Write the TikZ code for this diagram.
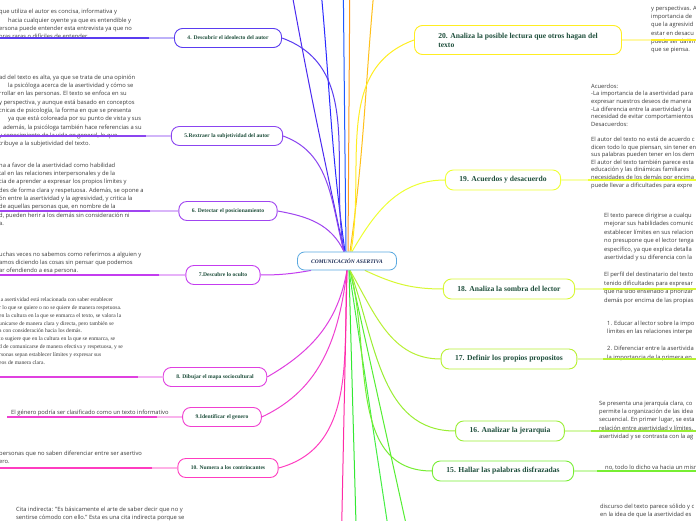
\documentclass[tikz,border=0pt]{standalone}
\usepackage{fontspec}
\setmainfont{Liberation Serif}
\setsansfont{Open Sans}
\usepackage{xcolor}
\usetikzlibrary{backgrounds}

\definecolor{rootline}{HTML}{5AA9E0}
\definecolor{roottext}{HTML}{1B2B55}
\definecolor{nodetext}{HTML}{1F4F3C}
\definecolor{leaftext}{HTML}{3A3A3A}
\definecolor{c1}{HTML}{1E5AFF}
\definecolor{c2}{HTML}{2A2AFF}
\definecolor{c3}{HTML}{4A2AF0}
\definecolor{c4}{HTML}{5A3CF0}
\definecolor{c5}{HTML}{8B45F0}
\definecolor{c6}{HTML}{A045F0}
\definecolor{c7}{HTML}{C43CF0}
\definecolor{c8}{HTML}{E040E0}
\definecolor{c9}{HTML}{F040D0}
\definecolor{c10}{HTML}{FF3CC0}
\definecolor{c11}{HTML}{FF2AA5}
\definecolor{c12}{HTML}{33E833}
\definecolor{c13}{HTML}{44EE44}
\definecolor{c14}{HTML}{55EE33}
\definecolor{c15}{HTML}{77EE33}
\definecolor{c16}{HTML}{99EE33}
\definecolor{c17}{HTML}{B8F033}
\definecolor{c18}{HTML}{D8F833}
\definecolor{c19}{HTML}{EEFF33}
\definecolor{c20}{HTML}{FFEE22}
\definecolor{c21}{HTML}{FFC01A}
\definecolor{c22}{HTML}{FF9A1A}

\begin{document}
\begin{tikzpicture}[x=1pt, y=1pt,
    root/.style={draw=rootline, fill=white, line width=0.8pt, rounded corners=7pt, minimum width=99pt, minimum height=18pt, font=\fontsize{5.5}{6}\selectfont\bfseries\itshape, text=roottext},
    topic/.style={draw=#1, fill=white, line width=0.9pt, rounded corners=8pt, minimum height=19pt, inner xsep=13pt, font=\fontsize{5.6}{6.5}\selectfont\bfseries, text=nodetext},
    bigtopic/.style={topic=#1, minimum height=20pt, inner xsep=14pt, font=\fontsize{7.6}{9}\selectfont\bfseries},
    leaf/.style={anchor=north west, inner sep=0pt, align=left, text=leaftext, font=\sffamily\fontsize{5.8}{8.3}\selectfont},
    leafrm/.style={leaf, font=\rmfamily\fontsize{5.6}{7.8}\selectfont},
    branch/.style={draw=#1, line width=1pt},
    lead/.style={draw=#1!40, line width=1.3pt},
    under/.style={draw=#1, line width=1.9pt}
  ]
  \useasboundingbox (0,0) rectangle (696,520);

  \node[root] (c) at (347,259) {COMUNICACIÓN ASERTIVA};

  \node[topic=c4] (n4) at (228,482) {4. Descubrir el ideolecto del autor};
  \node[topic=c5] (n5) at (227,384) {5.Rextraer la subjetividad del autor};
  \node[topic=c6] (n6) at (228,309) {6. Detectar el posicionamiento};
  \node[topic=c7] (n7) at (223,245) {7.Descubre lo oculto};
  \node[topic=c8] (n8) at (215,143) {8. Dibujar el mapa sociocultural};
  \node[topic=c9] (n9) at (222,103) {9.Identificar el genero};
  \node[topic=c10] (n10) at (228,52) {10. Numera a los contrincantes};

  \node[bigtopic=c20, align=left, minimum width=207pt, minimum height=29pt] (n20) at (518,480) {20. Analiza la posible lectura que otros hagan del\\texto};
  \node[bigtopic=c19] (n19) at (503,340) {19. Acuerdos y desacuerdo};
  \node[bigtopic=c18] (n18) at (509,231) {18. Analiza la sombra del lector};
  \node[bigtopic=c17] (n17) at (509,161) {17. Definir los propios propositos};
  \node[bigtopic=c16] (n16) at (510,89) {16. Analizar la jerarquia};
  \node[bigtopic=c15] (n15) at (503,49) {15. Hallar las palabras disfrazadas};

  \node[leaf] (l4) at (-1,510.8) {que utiliza el autor es concisa, informativa y\\\hspace*{9pt}hacia cualquier oyente ya que es entendible y\\ersona puede entender esta entrevista ya que no\\oras raras o difíciles de entender.};
  \node[leaf] (l5) at (-1,445.3) {ad del texto es alta, ya que se trata de una opinión\\\hspace*{9pt}la psicóloga acerca de la asertividad y cómo se\\rrollar en las personas. El texto se enfoca en su\\y perspectiva, y aunque está basado en conceptos\\cnicas de psicología, la forma en que se presenta\\\hspace*{9pt}ya que está coloreada por su punto de vista y sus\\\hspace*{4pt}además, la psicóloga también hace referencias a su\\y conocimiento de la vida en general, lo que\\tribuye a la subjetividad del texto.};
  \node[leaf] (l6) at (-1,357.3) {na a favor de la asertividad como habilidad\\tal en las relaciones interpersonales y de la\\cia de aprender a expresar los propios límites y\\des de forma clara y respetuosa. Además, se opone a\\ón entre la asertividad y la agresividad, y critica la\\de aquellas personas que, en nombre de la\\d, pueden herir a los demás sin consideración ni\\a.};
  \node[leaf] (l7) at (-1,268.3) {uchas veces no sabemos como referirnos a alguien y\\amos diciendo las cosas sin pensar que podemos\\ar ofendiendo a esa persona.};
  \node[leafrm] (l8) at (-1,222.3) {la asertividad está relacionada con saber establecer\\r lo que se quiere o no se quiere de manera respetuosa.\\en la cultura en la que se enmarca el texto, se valora la\\unicarse de manera clara y directa, pero también se\\a con consideración hacia los demás.\\to sugiere que en la cultura en la que se enmarca, se\\d de comunicarse de manera efectiva y respetuosa, y se\\rsonas sepan establecer límites y expresar sus\\eos de manera clara.};
  \node[leaf] (l9) at (11,110.3) {El género podría ser clasificado como un texto informativo};
  \node[leaf] (l10) at (-1,69.3) {personas que no saben diferenciar entre ser asertivo\\ero.};
  \node[leaf] (lc) at (16,13.3) {Cita indirecta: "Es básicamente el arte de saber decir que no y\\sentirse cómodo con ello." Esta es una cita indirecta porque se};

  \node[leaf] (l20) at (651,514.3) {y perspectivas. A\\importancia de\\que la agresivid\\estar en desacu\\puede ser dañin\\que se piensa.};
  \node[leaf, font=\sffamily\fontsize{5.8}{7.6}\selectfont] (l19) at (591,436.3) {Acuerdos:\\-La importancia de la asertividad para\\expresar nuestros deseos de manera\\-La diferencia entre la asertividad y la\\necesidad de evitar comportamientos\\Desacuerdos:\\[7.6pt]El autor del texto no está de acuerdo c\\dicen todo lo que piensan, sin tener en\\sus palabras pueden tener en los dem\\El autor del texto también parece esta\\educación y las dinámicas familiares\\necesidades de los demás por encima\\puede llevar a dificultades para expre};
  \node[leaf, font=\sffamily\fontsize{5.8}{8.5}\selectfont] (l18) at (604,307.3) {El texto parece dirigirse a cualqu\\mejorar sus habilidades comunic\\establecer límites en sus relacion\\no presupone que el lector tenga\\específico, ya que explica detalla\\asertividad y su diferencia con la\\[8.5pt]El perfil del destinatario del texto\\tenido dificultades para expresar\\que ha sido enseñado a priorizar\\demás por encima de las propias};
  \node[leaf, font=\sffamily\fontsize{5.8}{8.5}\selectfont] (l17) at (607,199.3) {1. Educar al lector sobre la impo\\límites en las relaciones interpe\\[8.5pt]2. Diferenciar entre la asertivida\\la importancia de la primera en};
  \node[leaf] (l16) at (599,119.3) {Se presenta una jerarquía clara, co\\permite la organización de las idea\\secuencial. En primer lugar, se esta\\relación entre asertividad y límites.\\asertividad y se contrasta con la ag};
  \node[leaf] (l15) at (605,55.3) {no, todo lo dicho va hacia un mism};
  \node[leaf] (lb) at (600,16.3) {discurso del texto parece sólido y c\\en la idea de que la asertividad es};

  \coordinate (rim) at (700,0);
  \coordinate (t1) at (343,560);
  \coordinate (t2) at (318,560);
  \coordinate (t3) at (286,560);
  \coordinate (t21) at (377,560);
  \coordinate (t22) at (350,560);
  \coordinate (b11) at (341,-40);
  \coordinate (b12) at (357,-40);
  \coordinate (b13) at (393,-40);
  \coordinate (b14) at (414,-40);

  \begin{scope}[on background layer]
    \fill[white] (0,0) rectangle (696,520);
    \draw[branch=c3] ([xshift=-3pt]c.north) to[out=102,in=-80] (t3);
    \draw[branch=c2] ([xshift=-2pt]c.north) to[out=98,in=-84] (t2);
    \draw[branch=c1] ([xshift=-1pt]c.north) -- (t1);
    \draw[branch=c22] ([xshift=1pt]c.north) -- (t22);
    \draw[branch=c21] ([xshift=3pt]c.north) to[out=82,in=-96] (t21);
    \draw[branch=c4] ([xshift=-3pt]c.north) to[out=100,in=-20] (n4.east);
    \draw[branch=c5] ([xshift=-3pt]c.north) to[out=105,in=-20] (n5.east);
    \draw[branch=c6] ([xshift=-3pt]c.north) to[out=115,in=-10] (n6.east);
    \draw[branch=c7] ([xshift=14pt]c.south west) to[out=190,in=0] (n7.east);
    \draw[branch=c8] (c.south) to[out=-100,in=30] (n8.east);
    \draw[branch=c9] (c.south) to[out=-97,in=25] (n9.east);
    \draw[branch=c10] (c.south) to[out=-93,in=15] (n10.east);
    \draw[branch=c11] (c.south) -- (b11);
    \draw[branch=c12] ([xshift=2pt]c.south) -- (b12);
    \draw[branch=c13] ([xshift=2pt]c.south) -- (b13);
    \draw[branch=c14] ([xshift=3pt]c.south) -- (b14);
    \draw[branch=c15] ([xshift=3pt]c.south) to[out=-75,in=180] (n15.west);
    \draw[branch=c16] ([xshift=3pt]c.south) to[out=-70,in=180] (n16.west);
    \draw[branch=c17] ([xshift=3pt]c.south) to[out=-60,in=180] (n17.west);
    \draw[branch=c18] ([xshift=-32pt]c.south east) to[out=-25,in=180] (n18.west);
    \draw[branch=c19] ([xshift=5pt]c.north) to[out=60,in=180] (n19.west);
    \draw[branch=c20] ([xshift=4pt]c.north) to[out=80,in=200] (n20.west);
  \end{scope}

  \draw[lead=c4] (n4.west) -- ++(-25,0) coordinate (k4);
  \draw[under=c4] (k4) -- (l4.west |- k4);
  \draw[lead=c5] (n5.west) -- ++(-25,0) coordinate (k5);
  \draw[under=c5] (k5) -- (l5.west |- k5);
  \draw[lead=c6] (n6.west) -- ++(-28,0) coordinate (k6);
  \draw[under=c6] (k6) -- (l6.west |- k6);
  \draw[lead=c7] (n7.west) -- ++(-26,0) coordinate (k7);
  \draw[under=c7] (k7) -- (l7.west |- k7);
  \draw[lead=c8] (n8.west) -- ++(-25,0) coordinate (k8);
  \draw[under=c8] (k8) -- (l8.west |- k8);
  \draw[lead=c9] (n9.west) -- ++(-25,0) coordinate (k9);
  \draw[under=c9] (k9) -- ([xshift=-4pt]l9.west |- k9);
  \draw[lead=c10] (n10.west) -- ++(-25,0) coordinate (k10);
  \draw[under=c10] (k10) -- (l10.west |- k10);

  \draw[lead=c20] (n20.east) -- ++(29,0) coordinate (k20);
  \draw[under=c20] (k20) -- (k20 -| rim);
  \draw[lead=c19] (n19.east) -- ++(27,0) coordinate (k19);
  \draw[under=c19] (k19) -- (k19 -| rim);
  \draw[lead=c18] (n18.east) -- ++(28,0) coordinate (k18);
  \draw[under=c18] (k18) -- (k18 -| rim);
  \draw[lead=c17] (n17.east) -- ++(26,0) coordinate (k17);
  \draw[under=c17] (k17) -- (k17 -| rim);
  \draw[lead=c16] (n16.east) -- ++(26,0) coordinate (k16);
  \draw[under=c16] (k16) -- (k16 -| rim);
  \draw[lead=c15] (n15.east) -- ++(23,0) coordinate (k15);
  \draw[under=c15] (k15) -- (k15 -| rim);
\end{tikzpicture}
\end{document}
